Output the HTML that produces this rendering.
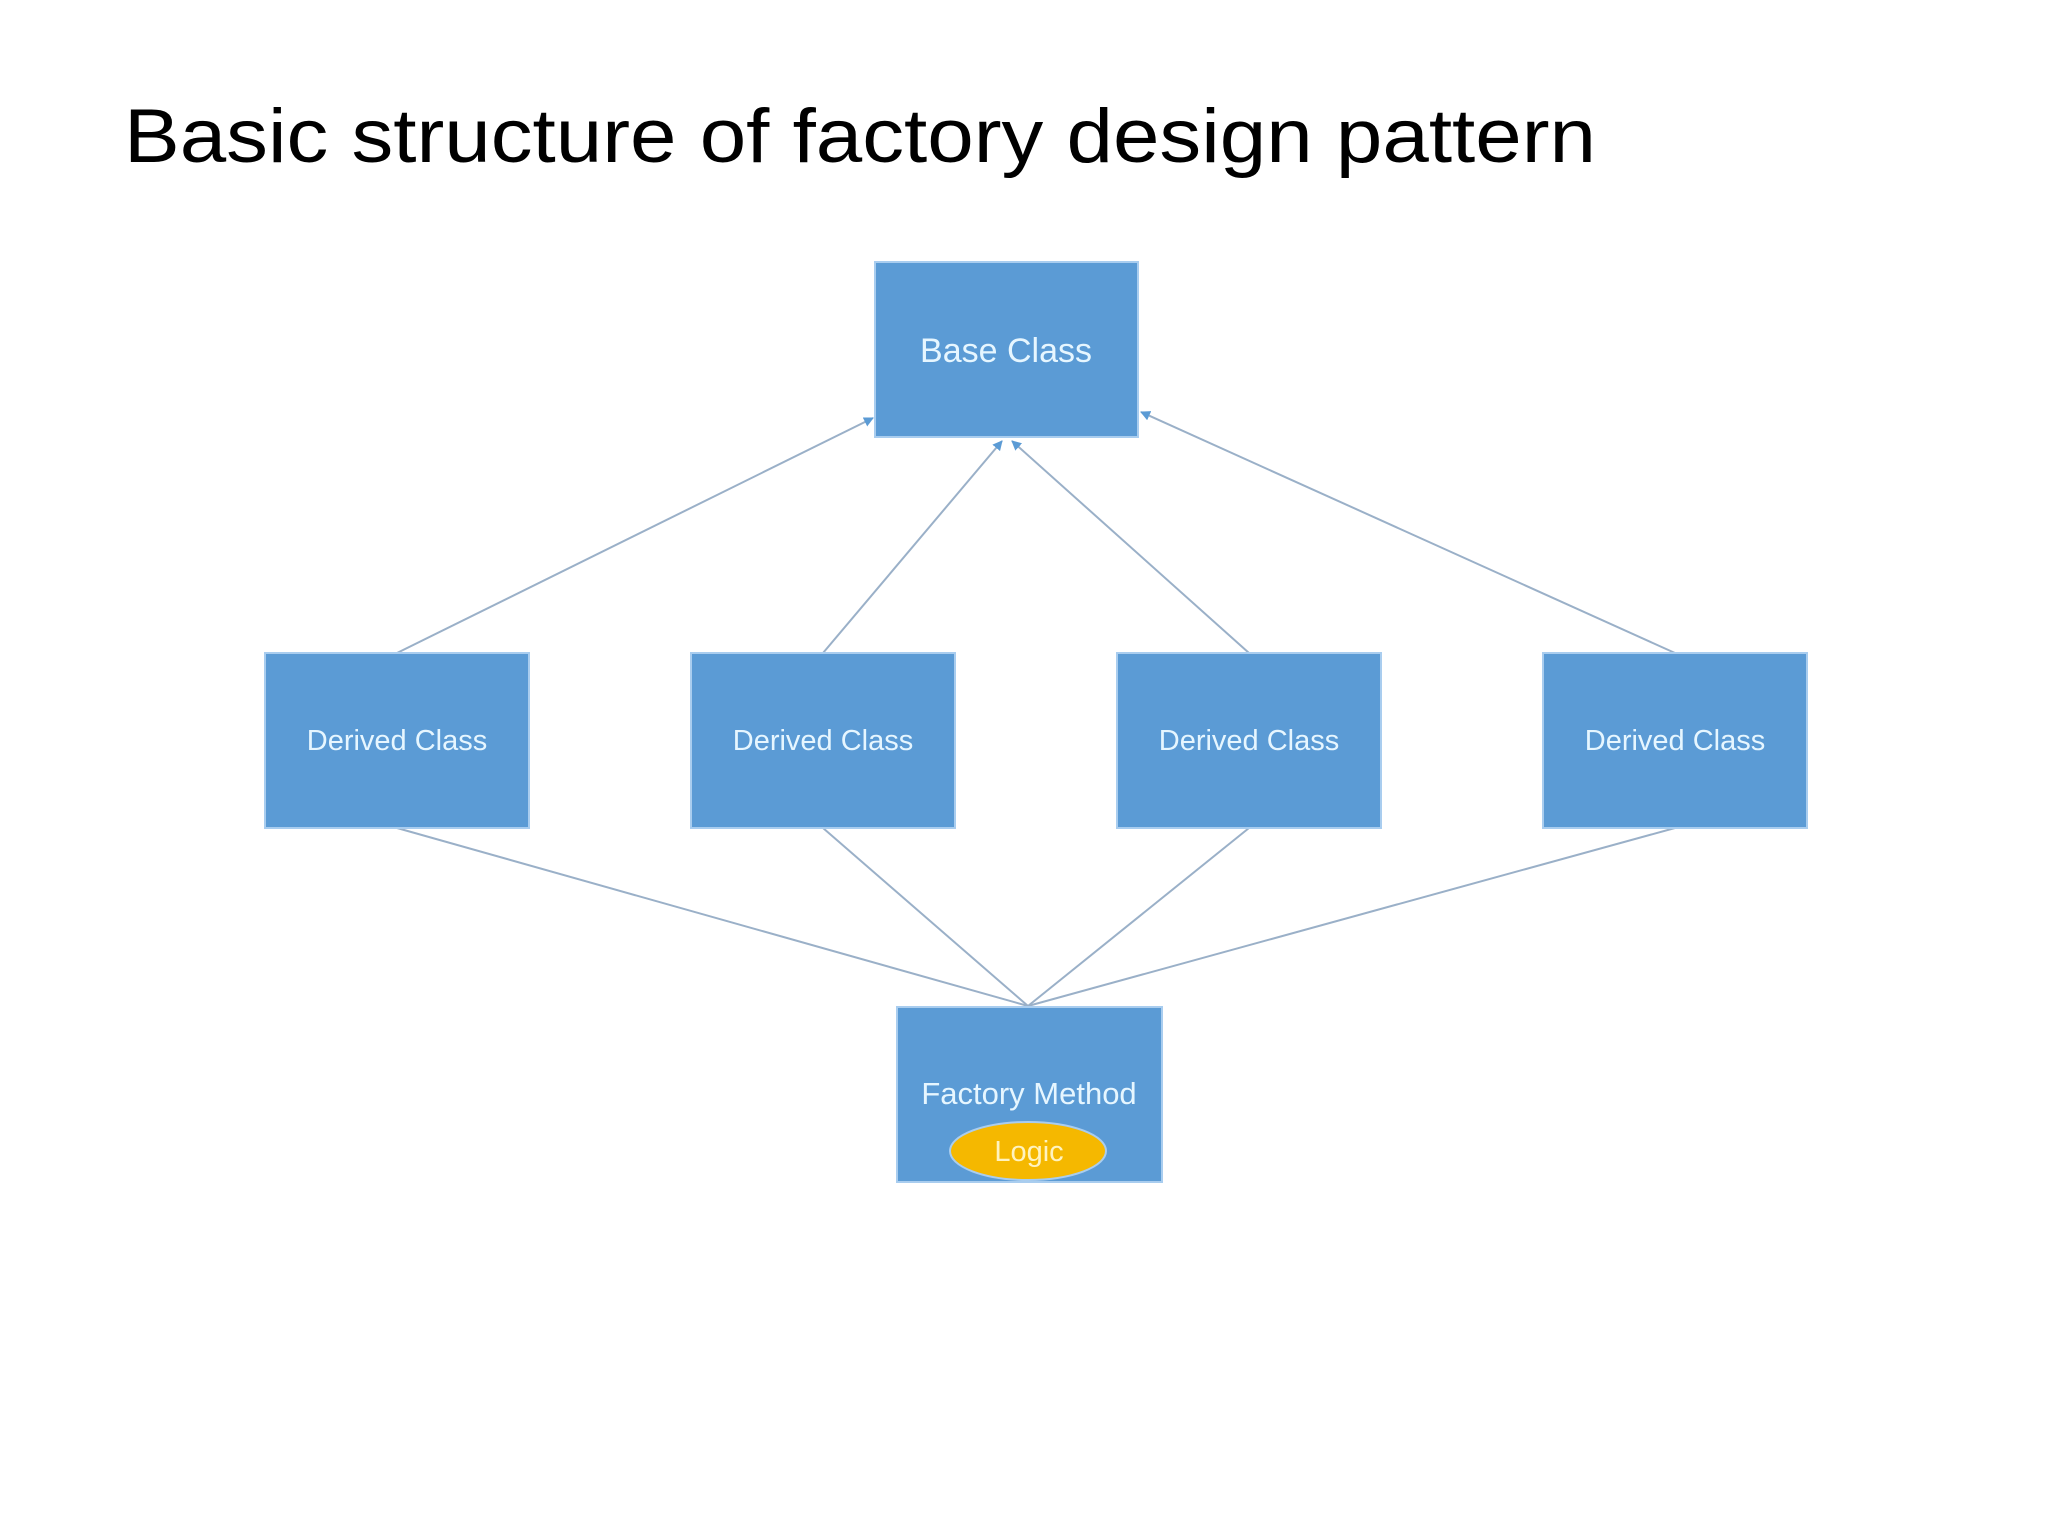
<!DOCTYPE html>
<html><head><meta charset="utf-8"><style>
html,body{margin:0;padding:0;background:#fff;}
svg{display:block;}
</style></head><body>
<svg width="2048" height="1536" viewBox="0 0 2048 1536" xmlns="http://www.w3.org/2000/svg">
<defs>
<marker id="ar" markerWidth="10" markerHeight="10" refX="9" refY="5" orient="auto" markerUnits="userSpaceOnUse" viewBox="0 0 10 10">
<path d="M0,0 L10,5 L0,10 z" fill="#5b9bd5"/>
</marker>
</defs>
<text x="124" y="162" font-family="Liberation Sans, sans-serif" font-size="76" fill="#000" textLength="1472" lengthAdjust="spacingAndGlyphs">Basic structure of factory design pattern</text>
<g stroke="#9ab0c8" stroke-width="2" fill="none">
<line x1="397" y1="653" x2="873" y2="418" marker-end="url(#ar)"/>
<line x1="823" y1="653" x2="1002" y2="441" marker-end="url(#ar)"/>
<line x1="1249" y1="653" x2="1012" y2="441" marker-end="url(#ar)"/>
<line x1="1675" y1="653" x2="1141" y2="412" marker-end="url(#ar)"/>
<line x1="397" y1="828" x2="1028" y2="1006"/>
<line x1="823" y1="828" x2="1028" y2="1006"/>
<line x1="1249" y1="828" x2="1028" y2="1006"/>
<line x1="1675" y1="828" x2="1028" y2="1006"/>
</g>
<g fill="#5b9bd5" stroke="#a9cdef" stroke-width="2">
<rect x="875" y="262" width="263" height="175"/>
<rect x="265" y="653" width="264" height="175"/>
<rect x="691" y="653" width="264" height="175"/>
<rect x="1117" y="653" width="264" height="175"/>
<rect x="1543" y="653" width="264" height="175"/>
<rect x="897" y="1007" width="265" height="175"/>
</g>
<ellipse cx="1028" cy="1151" rx="78" ry="29" fill="#f5b800" stroke="#a9cdef" stroke-width="2"/>
<g font-family="Liberation Sans, sans-serif" fill="#e6f6ff" text-anchor="middle">
<text x="1006" y="362" font-size="34">Base Class</text>
<text x="397" y="750" font-size="29">Derived Class</text>
<text x="823" y="750" font-size="29">Derived Class</text>
<text x="1249" y="750" font-size="29">Derived Class</text>
<text x="1675" y="750" font-size="29">Derived Class</text>
<text x="1029" y="1104" font-size="31">Factory Method</text>
<text x="1029" y="1161" font-size="29" fill="#fff3c0">Logic</text>
</g>
</svg>
</body></html>
